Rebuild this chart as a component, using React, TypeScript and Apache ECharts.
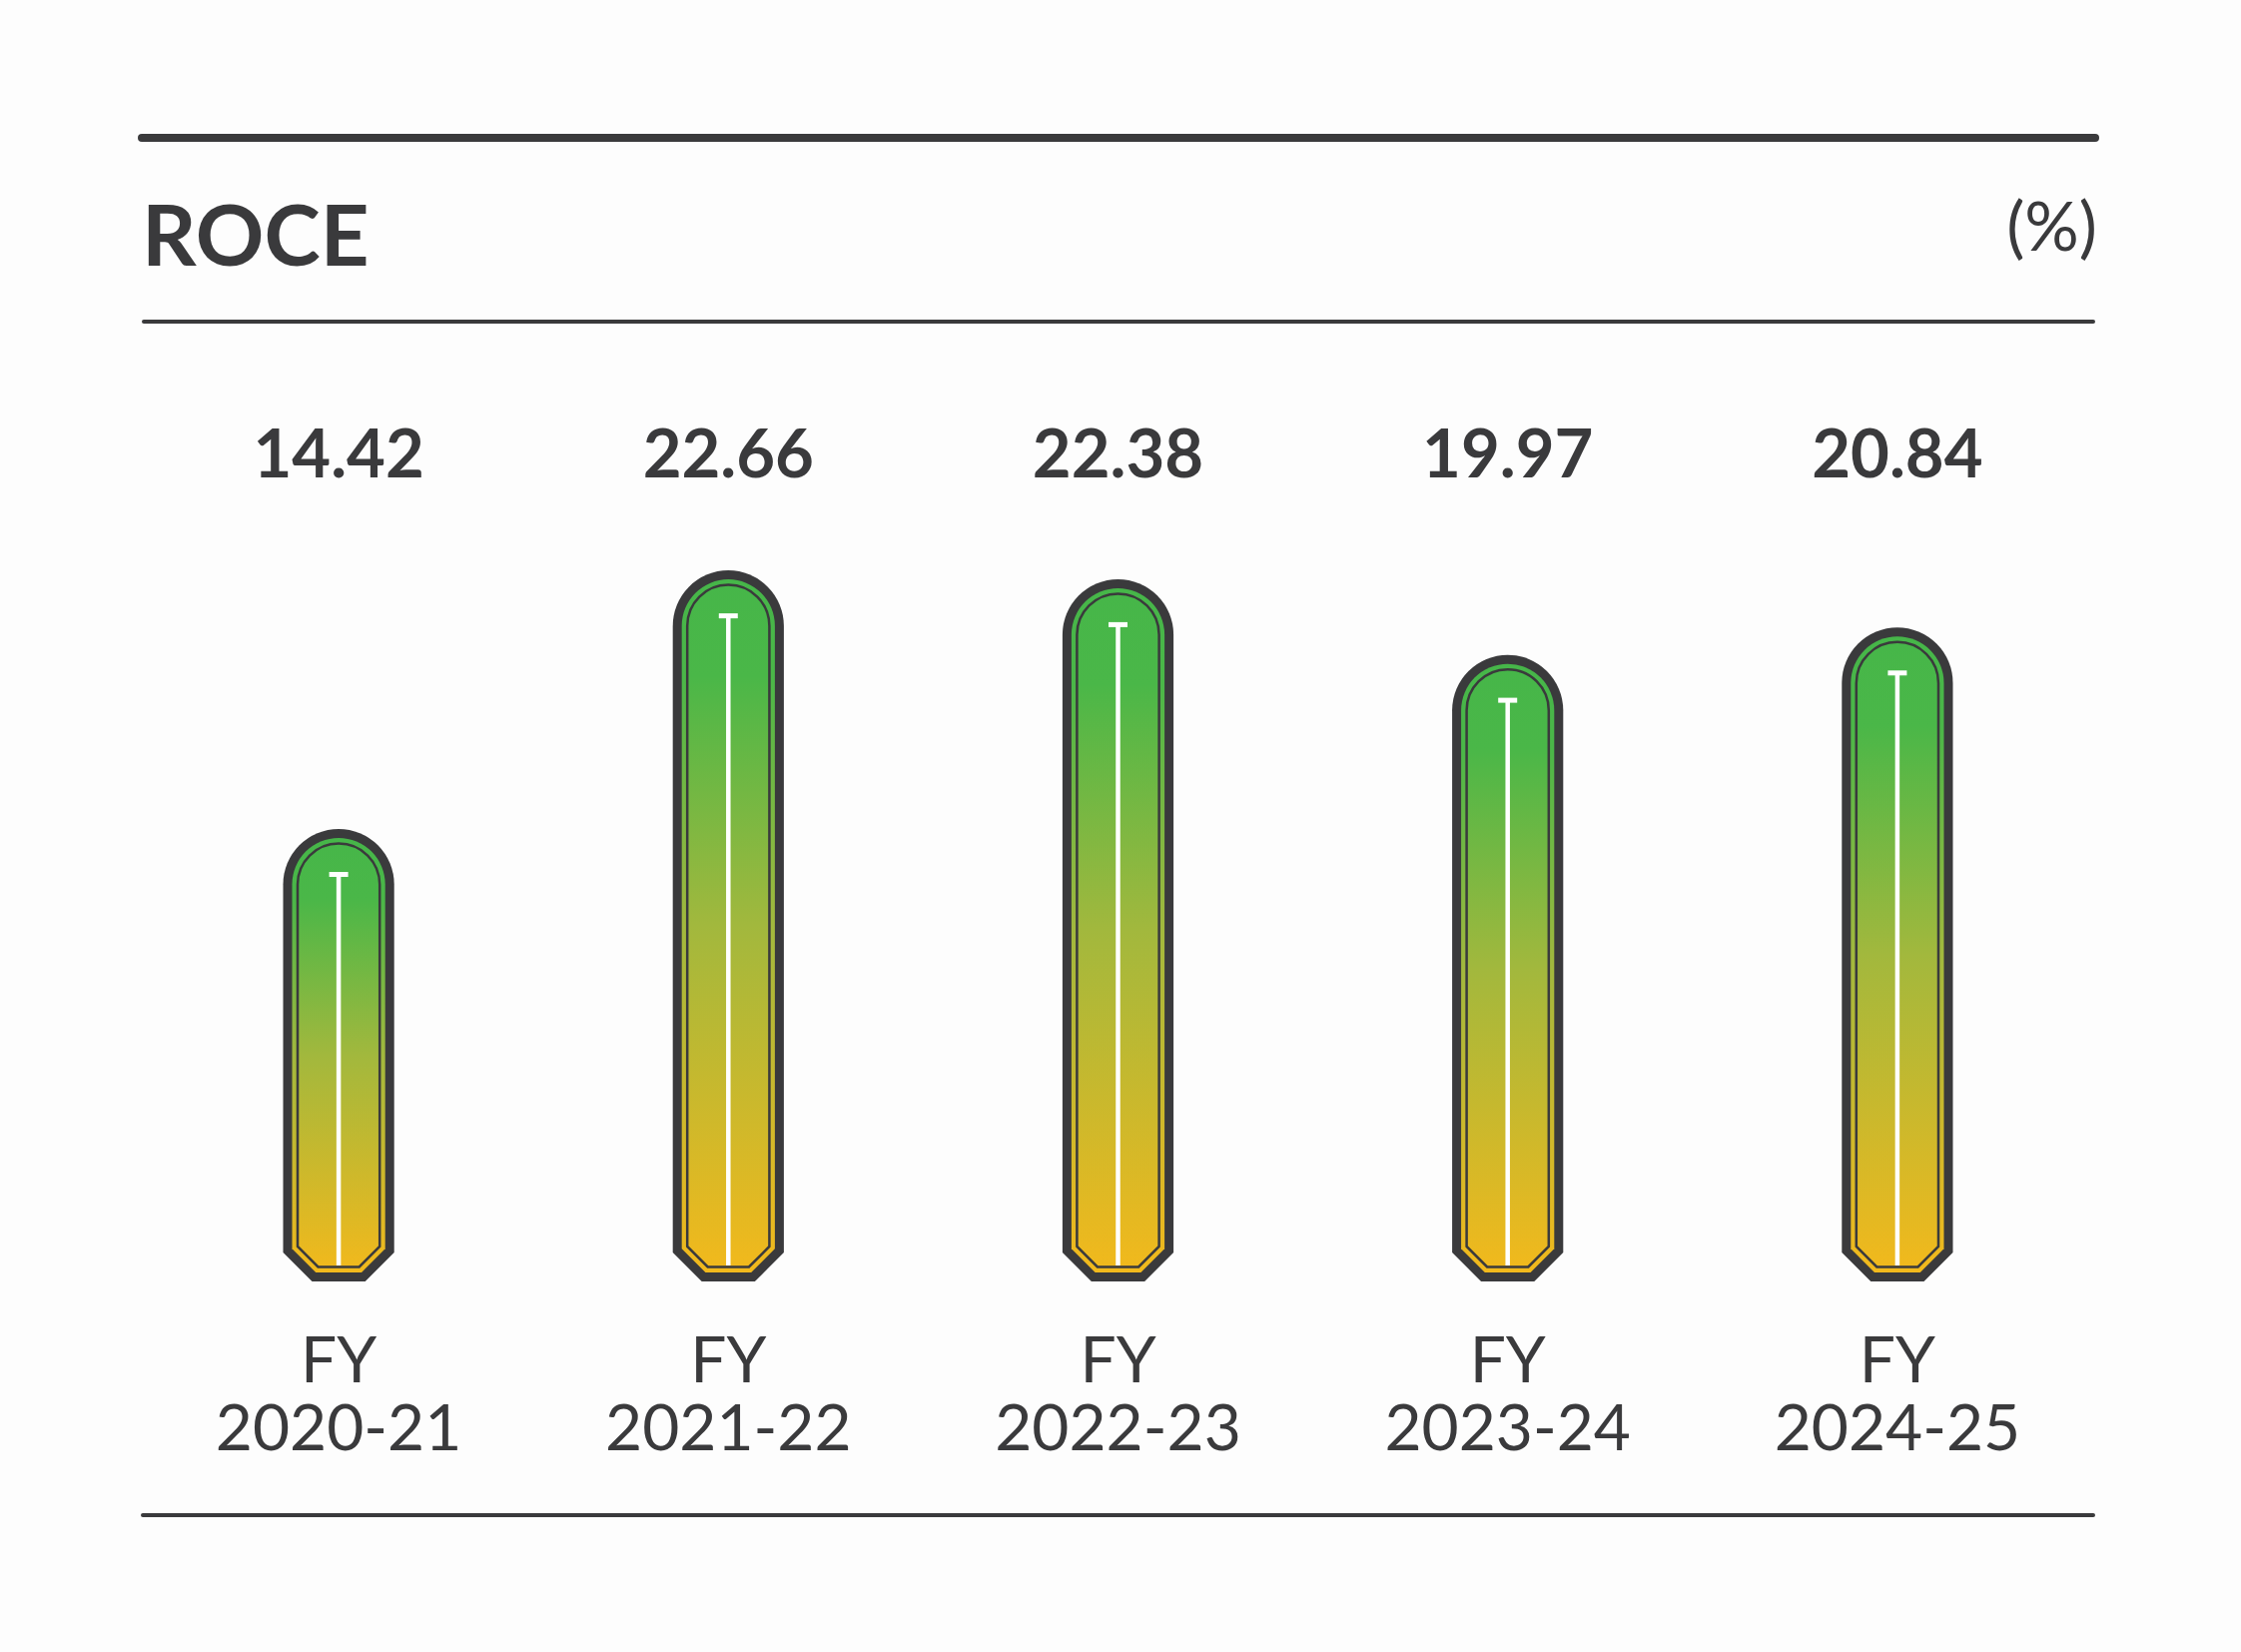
import React, { useEffect, useRef } from "react";
import * as echarts from "echarts";

// Fiscal years and return on capital employed (%)
const categories = ["FY\n2020-21", "FY\n2021-22", "FY\n2022-23", "FY\n2023-24", "FY\n2024-25"];
const roceValues = [14.42, 22.66, 22.38, 19.97, 20.84];
const chartTitle = "ROCE";
const unitLabel = "(%)";

const INK = "#3a3a3c";
const FONT = "Lato";

// Capsule outline: rounded top, chamfered bottom, inset by d pixels
function capsulePath(cx: number, yT: number, yB: number, W: number, d: number, c: number) {
  const Lo = cx - W / 2;
  const Ro = cx + W / 2;
  const r = W / 2 - d;
  const ay = yT + W / 2;
  const k = (Math.SQRT2 - 1) * d;
  const L = Lo + d;
  const R = Ro - d;
  return (
    `M${L} ${ay} A${r} ${r} 0 0 1 ${R} ${ay} ` +
    `L${R} ${yB - c - k} L${Ro - c - k} ${yB - d} ` +
    `L${Lo + c + k} ${yB - d} L${L} ${yB - c - k} Z`
  );
}

export default function App() {
  const ref = useRef<HTMLDivElement>(null);

  useEffect(() => {
    if (!ref.current) return;
    const chart = echarts.init(ref.current, null, { renderer: "svg" });

    const fillGradient = () =>
      new echarts.graphic.LinearGradient(0, 0, 0, 1, [
        { offset: 0, color: "#46b649" },
        { offset: 0.14, color: "#4ab748" },
        { offset: 0.5, color: "#a2b83d" },
        { offset: 1, color: "#f2b91c" },
      ]);

    const option: any = {
      animation: false,
      backgroundColor: "#fdfdfd",
      grid: { left: 144, width: 1951, top: 529, height: 754 },
      xAxis: {
        type: "category",
        data: categories,
        axisLine: { show: false },
        axisTick: { show: false },
        axisLabel: {
          margin: 42,
          fontFamily: FONT,
          fontSize: 64,
          lineHeight: 68,
          color: INK,
        },
      },
      yAxis: { type: "value", min: 0, max: 24, show: false, splitLine: { show: false } },
      graphic: [
        {
          type: "line",
          shape: { x1: 142, y1: 138, x2: 2098, y2: 138 },
          style: { stroke: INK, lineWidth: 8, lineCap: "round" },
        },
        {
          type: "line",
          shape: { x1: 144, y1: 322, x2: 2096, y2: 322 },
          style: { stroke: INK, lineWidth: 4, lineCap: "round" },
        },
        {
          type: "line",
          shape: { x1: 143, y1: 1517, x2: 2096, y2: 1517 },
          style: { stroke: INK, lineWidth: 4, lineCap: "round" },
        },
        {
          type: "text",
          left: 142,
          top: 190,
          style: { text: chartTitle, font: `bold 85px ${FONT}`, fill: INK },
        },
        {
          type: "text",
          right: 2244 - 2100,
          top: 190,
          style: { text: unitLabel, font: `68px ${FONT}`, fill: INK },
        },
      ],
      series: [
        {
          type: "custom",
          data: roceValues.map((v, i) => [i, v]),
          renderItem: (params: any, api: any) => {
            const v = api.value(1);
            const top = api.coord([api.value(0), v]);
            const base = api.coord([api.value(0), 0]);
            const cx = top[0];
            const yT = top[1];
            const yB = base[1];
            const W = api.size([1, 0])[0] * 0.285;
            const c = 29;
            const stemTop = yT + 45;
            const stemBottom = yB - 16;
            return {
              type: "group",
              children: [
                {
                  type: "path",
                  shape: { pathData: capsulePath(cx, yT, yB, W, 0, c) },
                  style: { fill: INK },
                },
                {
                  type: "path",
                  shape: { pathData: capsulePath(cx, yT, yB, W, 9, c) },
                  style: { fill: fillGradient() },
                },
                {
                  type: "path",
                  shape: { pathData: capsulePath(cx, yT, yB, W, 14.5, c) },
                  style: { fill: "none", stroke: INK, lineWidth: 2.5 },
                },
                {
                  type: "rect",
                  shape: { x: cx - 2.25, y: stemTop, width: 4.5, height: stemBottom - stemTop },
                  style: { fill: "#ffffff" },
                },
                {
                  type: "rect",
                  shape: { x: cx - 9.5, y: stemTop - 2, width: 19, height: 5 },
                  style: { fill: "#ffffff" },
                },
                {
                  type: "text",
                  x: cx,
                  y: 452,
                  style: {
                    text: v.toFixed(2),
                    font: `bold 67px ${FONT}`,
                    fill: INK,
                    align: "center",
                    verticalAlign: "middle",
                  },
                },
              ],
            };
          },
        },
      ],
    };

    chart.setOption(option);
    return () => chart.dispose();
  }, []);

  return (
    <div
      ref={ref}
      style={{ position: "fixed", left: 0, top: 0, width: 2244, height: 1654 }}
    />
  );
}
